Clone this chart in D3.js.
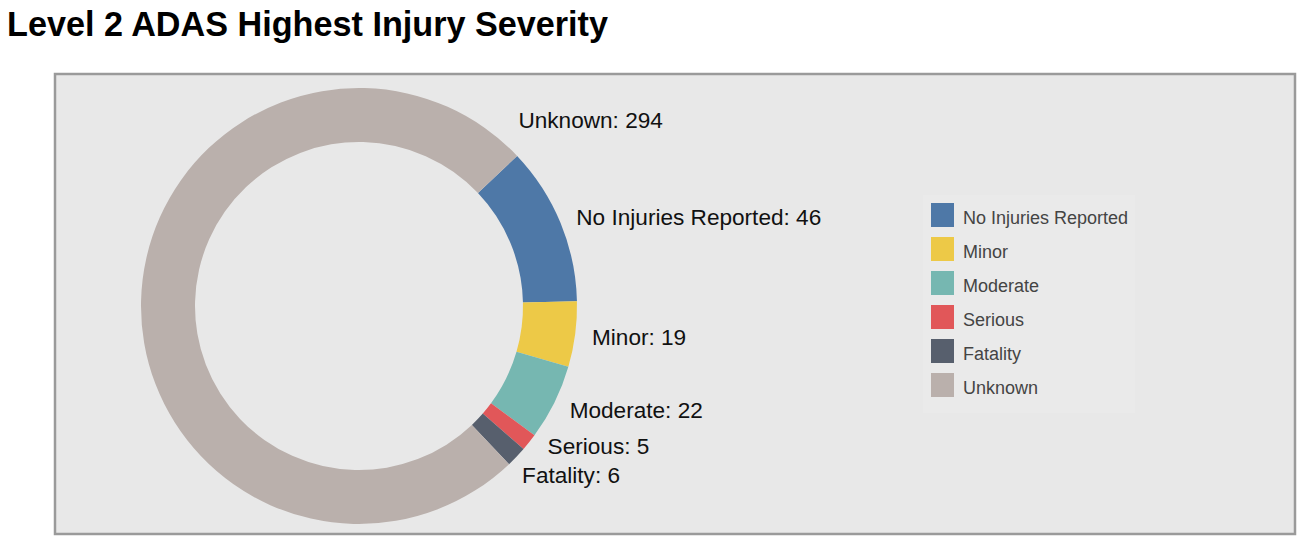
<!DOCTYPE html>
<html>
<head>
<meta charset="utf-8">
<script src="https://cdn.jsdelivr.net/npm/d3@7"></script>
<style>
  html, body { margin: 0; padding: 0; background: #fff; }
  svg { display: block; font-family: "Liberation Sans", Arial, sans-serif; }
</style>
</head>
<body>
<div id="chart"></div>
<script>
/* Donut: Level 2 ADAS highest injury severity */
const categories = ["No Injuries Reported", "Minor", "Moderate", "Serious", "Fatality", "Unknown"];
const counts = [46, 19, 22, 5, 6, 294];
const colors = ["#4e78a7", "#edc947", "#76b7b1", "#e15759", "#575f6d", "#bab0ac"];

const W = 1307, H = 547;
const svg = d3.select("#chart").append("svg").attr("width", W).attr("height", H);

svg.append("text").attr("x", 7).attr("y", 36)
  .attr("font-size", 34.2).attr("font-weight", "bold").attr("fill", "#000")
  .text("Level 2 ADAS Highest Injury Severity");

// panel
svg.append("rect").attr("x", 55).attr("y", 74).attr("width", 1240).attr("height", 460)
  .attr("fill", "#e8e8e8").attr("stroke", "#9a9a9a").attr("stroke-width", 2.5);

const cx = 359, cy = 306, rOut = 218, rIn = 164;
const start = 46.5 * Math.PI / 180;
const data = categories.map((c, i) => ({ name: c, value: counts[i], color: colors[i] }));
const pie = d3.pie().value(d => d.value).sort(null).startAngle(start).endAngle(start + 2 * Math.PI);
const arcs = pie(data);
const arc = d3.arc().innerRadius(rIn).outerRadius(rOut);

const g = svg.append("g").attr("transform", `translate(${cx},${cy})`);
g.selectAll("path").data(arcs).join("path")
  .attr("d", arc).attr("fill", d => d.data.color);

// labels: mid angle, except the large slice which is labelled near its end
const big = d => d.endAngle - d.startAngle > Math.PI;
const labels = arcs.map(d => {
  const a = big(d) ? d.endAngle - 0.103 : (d.startAngle + d.endAngle) / 2;
  const r = big(d) ? 245 : 235;
  return { d, r, y: -r * Math.cos(a) };
});
// push apart labels that sit too close vertically
const gap = 29;
for (let k = 0; k < 20; k++) {
  const s = labels.slice().sort((a, b) => a.y - b.y);
  for (let i = 1; i < s.length; i++) {
    const o = gap - (s[i].y - s[i - 1].y);
    if (o > 0) { s[i].y += o / 2; s[i - 1].y -= o / 2; }
  }
}
labels.forEach(l => { l.x = Math.sqrt(Math.max(0, l.r * l.r - l.y * l.y)); });

g.selectAll("text.lbl").data(labels).join("text").attr("class", "lbl")
  .attr("x", l => l.x).attr("y", l => l.y)
  .attr("dy", "0.355em").attr("font-size", 22.6).attr("fill", "#111")
  .text(l => `${l.d.data.name}: ${l.d.data.value}`);

// legend
const lg = svg.append("g").attr("transform", "translate(923,195)");
lg.append("rect").attr("width", 212).attr("height", 218).attr("fill", "#eaeaea");
const rows = lg.selectAll("g").data(data).join("g")
  .attr("transform", (d, i) => `translate(8,${8 + i * 34})`);
rows.append("rect").attr("width", 23).attr("height", 24).attr("fill", d => d.color);
rows.append("text").attr("x", 32).attr("y", 14).attr("dy", "0.38em")
  .attr("font-size", 18).attr("fill", "#444").text(d => d.name);
</script>
</body>
</html>
